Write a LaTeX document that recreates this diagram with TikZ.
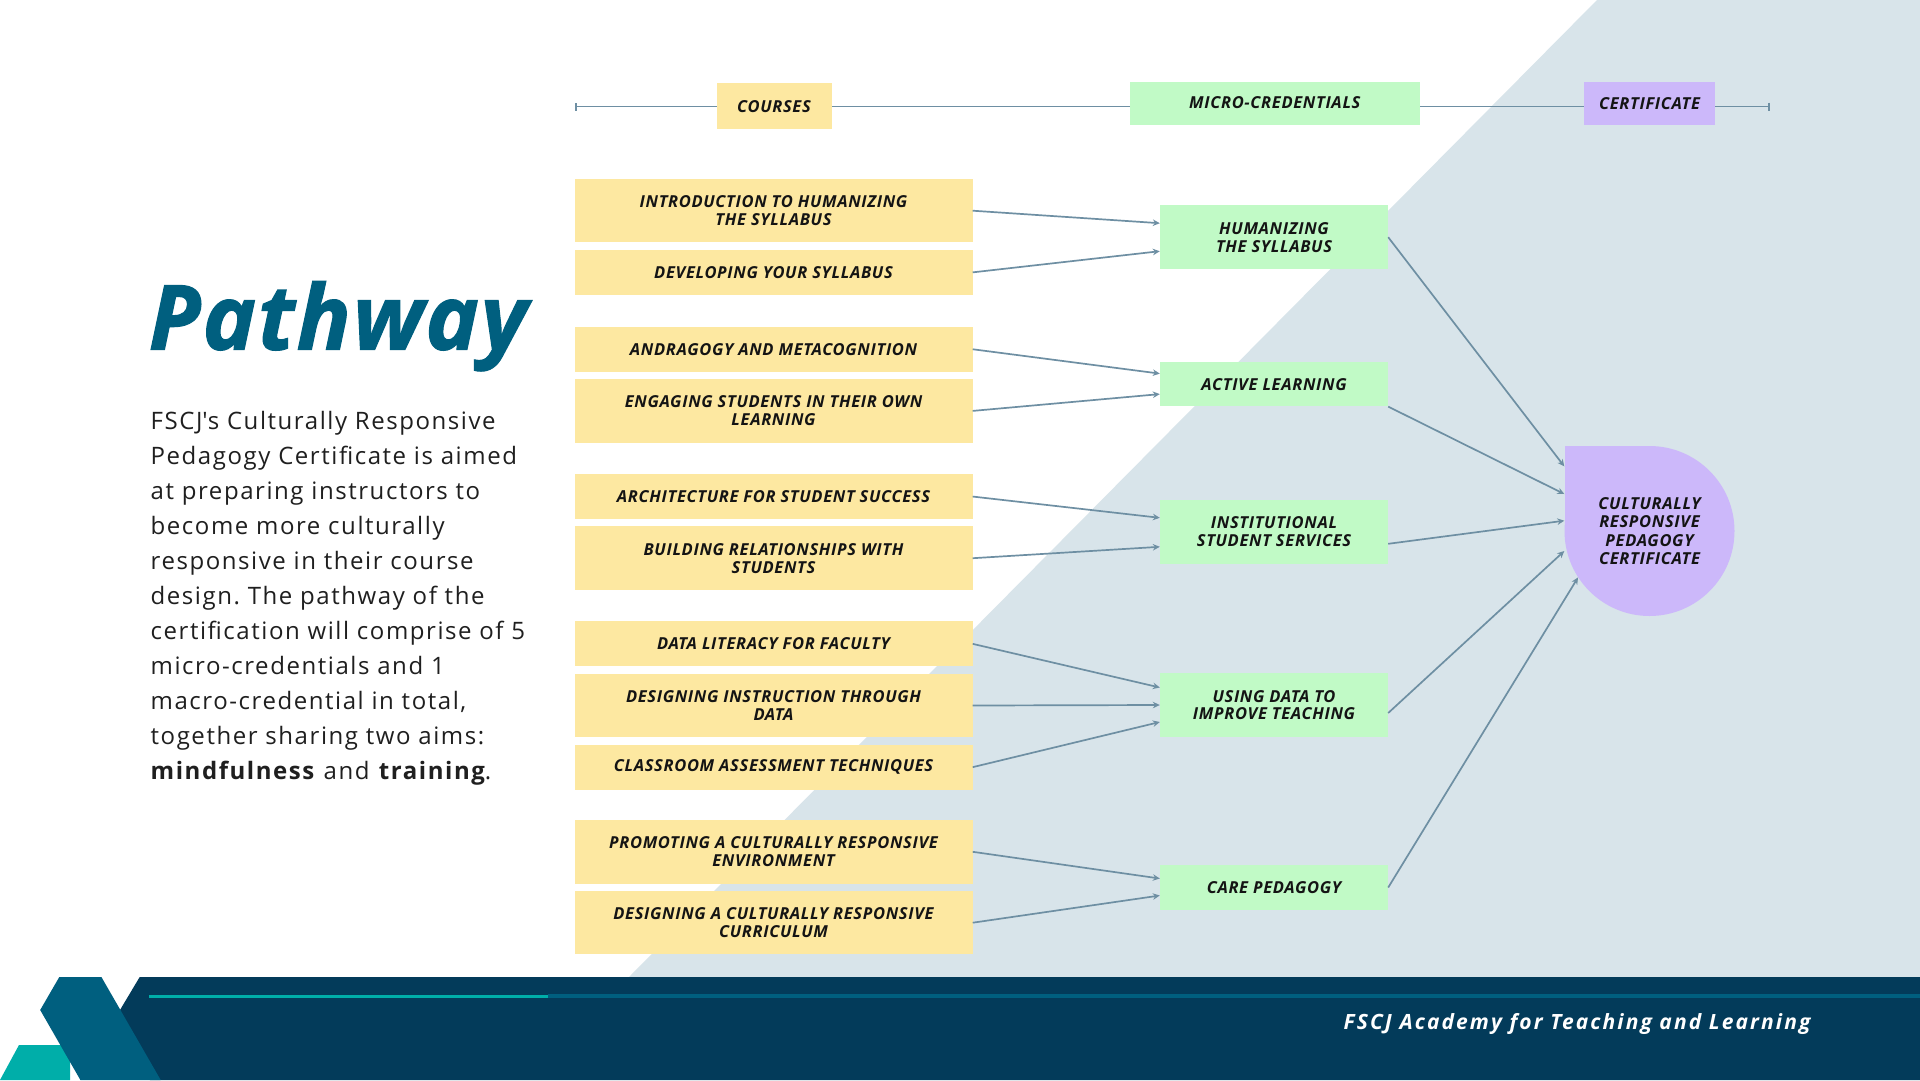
\documentclass[tikz,border=0pt]{standalone}
\usepackage{fontspec}
\setmainfont{Open Sans}
\newfontfamily\tagfont{Open Sans}[LetterSpace=4]
\newfontfamily\footfont{Open Sans}[LetterSpace=10]
\newfontfamily\blurbfont{Open Sans}[LetterSpace=6.5]
\newfontfamily\titlefont{Open Sans}[BoldItalicFeatures={FakeBold=1.2, LetterSpace=2}]
\usetikzlibrary{arrows.meta,positioning}
\frenchspacing

\definecolor{courseyel}{RGB}{253,232,161}
\definecolor{microgrn}{RGB}{193,250,198}
\definecolor{certlav}{RGB}{204,184,250}
\definecolor{slate}{RGB}{216,228,234}
\definecolor{navy}{RGB}{3,59,90}
\definecolor{deepblue}{RGB}{0,95,127}
\definecolor{fsteal}{RGB}{0,174,169}
\definecolor{linkc}{RGB}{110,143,163}

\begin{document}
\begin{tikzpicture}[x=1pt, y=-1pt, >={Stealth[length=7pt,width=6.5pt]},
  course/.style={fill=courseyel, minimum width=398pt, minimum height=45pt, inner sep=0pt,
    align=center, text=black!92, font=\tagfont\bfseries\itshape\fontsize{16.5}{17.8}\selectfont},
  tall/.style={minimum height=63.5pt},
  micro/.style={course, fill=microgrn, minimum width=228pt},
  head/.style={course, minimum height=43pt},
  link/.style={->, draw=linkc, line width=1.7pt}]
  \useasboundingbox (0,0) rectangle (1920,1080);
  \fill[white] (0,0) rectangle (1920,1080);

  % backdrop and footer band
  \fill[slate] (1597,0) -- (1920,0) -- (1920,977) -- (629,977) -- cycle;
  \fill[navy] (139.7,977) -- (1920,977) -- (1920,1080) -- (150,1080) -- (120,1010) -- cycle;
  \fill[fsteal] (19,1045) -- (70,1045) -- (70,1080) -- (0,1080) -- cycle;
  \fill[deepblue] (59.3,977) -- (101.4,977) -- (160.7,1080) -- (80.4,1080) -- (40.2,1010) -- cycle;
  \fill[fsteal] (149,994.8) rectangle (548,997.8);
  \fill[deepblue] (548,994.2) rectangle (1920,998.4);
  \node[anchor=base, inner sep=0pt, text=white, font=\footfont\bfseries\itshape\fontsize{21}{24}\selectfont] (foot) at (1577,1029) {FSCJ Academy for Teaching and Learning};

  % left: title and blurb
  \node[anchor=base west, inner sep=0pt, text=deepblue, font=\titlefont\bfseries\itshape\fontsize{90}{100}\selectfont] (title) at (148.5,349.6) {Pathway};
  \node[anchor=north west, inner sep=0pt, align=left, text=black!88, font=\blurbfont\fontsize{24}{35}\selectfont] (blurb) at (150.5,411) {FSCJ\textquotesingle s Culturally Responsive\\ Pedagogy Certificate is aimed\\ at preparing instructors to\\ become more culturally\\ responsive in their course\\ design. The pathway of the\\ certification will comprise of 5\\ micro-credentials and 1\\ macro-credential in total,\\ together sharing two aims:\\ \textbf{mindfulness} and \textbf{training}.};

  % header row
  \coordinate (hl) at (574.7,106.5);
  \coordinate (hr) at (1769.6,106.5);
  \draw[draw=linkc, line width=1.8pt, {Bar[width=8pt]}-{Bar[width=8pt]}] (hl) -- (hr);
  \node[head, minimum width=115pt, minimum height=45.7pt] (hcourse) at (774,106.2) {COURSES};
  \node[head, fill=microgrn, minimum width=290pt] (hmicro) at (1274.8,103) {MICRO-CREDENTIALS};
  \node[head, fill=certlav, minimum width=131pt] (hcert) at (1649.5,103.5) {CERTIFICATE};

  % courses
  \node[course, tall] (c1) at (773.5,210.7) {INTRODUCTION TO HUMANIZING\\THE SYLLABUS};
  \node[course, below=7pt of c1] (c2) {DEVELOPING YOUR SYLLABUS};
  \node[course, below=31.5pt of c2] (c3) {ANDRAGOGY AND METACOGNITION};
  \node[course, tall, below=7pt of c3] (c4) {ENGAGING STUDENTS IN THEIR OWN\\LEARNING};
  \node[course, below=31pt of c4] (c5) {ARCHITECTURE FOR STUDENT SUCCESS};
  \node[course, tall, below=7pt of c5] (c6) {BUILDING RELATIONSHIPS WITH\\STUDENTS};
  \node[course, below=31pt of c6] (c7) {DATA LITERACY FOR FACULTY};
  \node[course, tall, below=7pt of c7] (c8) {DESIGNING INSTRUCTION THROUGH\\DATA};
  \node[course, below=7pt of c8] (c9) {CLASSROOM ASSESSMENT TECHNIQUES};
  \node[course, tall, below=30pt of c9] (c10) {PROMOTING A CULTURALLY RESPONSIVE\\ENVIRONMENT};
  \node[course, tall, below=7pt of c10] (c11) {DESIGNING A CULTURALLY RESPONSIVE\\CURRICULUM};

  % micro-credentials
  \node[micro, tall] (hum) at (1274,237.2) {HUMANIZING\\THE SYLLABUS};
  \node[micro, minimum height=44.6pt] (act) at (1274,384.1) {ACTIVE LEARNING};
  \node[micro, tall] (ins) at (1274,531.8) {INSTITUTIONAL\\STUDENT SERVICES};
  \node[micro, tall] (use) at (1274,705) {USING DATA TO\\IMPROVE TEACHING};
  \node[micro] (care) at (1274,887.5) {CARE PEDAGOGY};

  % certificate
  \fill[certlav] (1564.5,446) rectangle (1650,531);
  \node[course, circle, fill=certlav, minimum width=170pt, minimum size=170pt,
    font=\tagfont\bfseries\itshape\fontsize{16.5}{18.4}\selectfont] (cert) at (1649.5,531) {CULTURALLY\\RESPONSIVE\\PEDAGOGY\\CERTIFICATE};

  % course -> micro
  \draw[link] (c1.east) -- ([yshift=14pt]hum.west);
  \draw[link] (c2.east) -- ([yshift=-14pt]hum.west);
  \draw[link] (c3.east) -- ([yshift=10.5pt]act.west);
  \draw[link] (c4.east) -- ([yshift=-10pt]act.west);
  \draw[link] (c5.east) -- ([yshift=14pt]ins.west);
  \draw[link] (c6.east) -- ([yshift=-15pt]ins.west);
  \draw[link] (c7.east) -- ([yshift=17.5pt]use.west);
  \draw[link] (c8.east) -- (use.west);
  \draw[link] (c9.east) -- ([yshift=-17pt]use.west);
  \draw[link] (c10.east) -- ([yshift=9pt]care.west);
  \draw[link] (c11.east) -- ([yshift=-8pt]care.west);

  % micro -> certificate
  \draw[link] (hum.east) -- ([yshift=64.6pt]cert.west);
  \draw[link] (act.south east) -- ([yshift=37pt]cert.west);
  \draw[link] ([yshift=-12pt]ins.east) -- ([yshift=10.3pt]cert.west);
  \draw[link] ([yshift=-8pt]use.east) -- ([yshift=-20pt]cert.west);
  \draw[link] (care.east) -- (cert.213);
\end{tikzpicture}
\end{document}
